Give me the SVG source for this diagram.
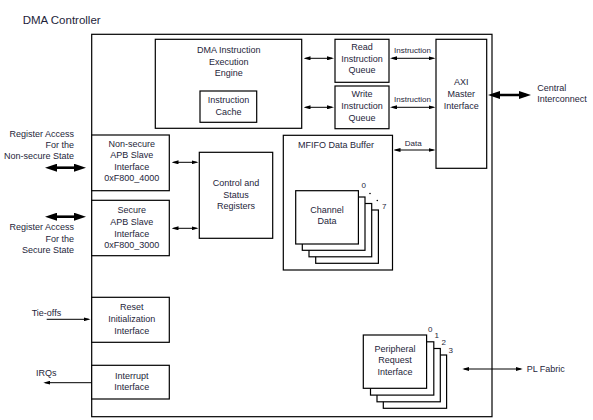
<svg xmlns="http://www.w3.org/2000/svg" width="593" height="420" viewBox="0 0 593 420">
<style>
text{font-family:"Liberation Sans",Arial,sans-serif;font-size:9px;fill:#1e1e3a}
.c{text-anchor:middle}
.r{text-anchor:end}
.box{fill:#fff;stroke:#000;stroke-width:1.2}
.ln{stroke:#000;stroke-width:1;fill:none}
.thk{stroke:#000;stroke-width:2.6;fill:none}
</style>
<defs>
<marker id="ah" markerUnits="userSpaceOnUse" viewBox="0 0 7 4" markerWidth="7" markerHeight="4" refX="5" refY="2" orient="auto-start-reverse"><path d="M0,0 L7,2 L0,4 z" fill="#000"/></marker>
<marker id="ahT" markerUnits="userSpaceOnUse" viewBox="0 0 12 8" markerWidth="12" markerHeight="8" refX="7" refY="4" orient="auto-start-reverse"><path d="M0,0 L12,4 L0,8 z" fill="#000"/></marker>
</defs>
<rect width="593" height="420" fill="#fff"/>
<text x="22.7" y="24.3" style="font-size:11.5px">DMA Controller</text>
<g id="controller"><rect class="box" x="91.7" y="34.3" width="400.3" height="382.4"/></g>
<g id="engine">
<rect class="box" x="155.3" y="39.3" width="146.4" height="89"/>
<text class="c" x="228.7" y="53">DMA Instruction</text>
<text class="c" x="228.7" y="64.5">Execution</text>
<text class="c" x="228.7" y="75.7">Engine</text>
</g>
<g id="cache">
<rect class="box" x="200" y="91" width="56.7" height="31.3"/>
<text class="c" x="228.4" y="102.7">Instruction</text>
<text class="c" x="228.4" y="114.5">Cache</text>
</g>
<g id="readq">
<rect class="box" x="335" y="39.3" width="54" height="43"/>
<text class="c" x="362" y="50">Read</text>
<text class="c" x="362" y="61.7">Instruction</text>
<text class="c" x="362" y="73.3">Queue</text>
</g>
<g id="writeq">
<rect class="box" x="335" y="86" width="54" height="42.7"/>
<text class="c" x="362" y="96.7">Write</text>
<text class="c" x="362" y="109">Instruction</text>
<text class="c" x="362" y="120.7">Queue</text>
</g>
<g id="axi">
<rect class="box" x="436" y="39.3" width="50.7" height="129"/>
<text class="c" x="461.3" y="85">AXI</text>
<text class="c" x="461.3" y="96.7">Master</text>
<text class="c" x="461.3" y="109">Interface</text>
</g>
<g id="mfifo">
<rect class="box" x="283.3" y="135.3" width="109.2" height="134.7"/>
<text class="c" x="336" y="148.3">MFIFO Data Buffer</text>
</g>
<g id="channel">
<rect class="box" x="315.7" y="210" width="62.7" height="53.3"/>
<rect class="box" x="309" y="203.5" width="62.7" height="53.3"/>
<rect class="box" x="302.3" y="197" width="62.7" height="53.3"/>
<rect class="box" x="295.7" y="190.7" width="62.7" height="53.3"/>
<text class="c" x="327" y="212.7">Channel</text>
<text class="c" x="327" y="224.3">Data</text>
<text x="361.5" y="188.3" style="font-size:8px">0</text>
<circle cx="370" cy="193.5" r="0.8" fill="#000"/>
<circle cx="377.3" cy="200.5" r="0.8" fill="#000"/>
<text x="382" y="209.3" style="font-size:8px">7</text>
</g>
<g id="nsapb">
<rect class="box" x="91.7" y="135" width="77.6" height="55.7"/>
<text class="c" x="131.7" y="146.7">Non-secure</text>
<text class="c" x="131.7" y="158.3">APB Slave</text>
<text class="c" x="131.7" y="169.5">Interface</text>
<text class="c" x="131.7" y="181">0xF800_4000</text>
</g>
<g id="sapb">
<rect class="box" x="91.7" y="200.3" width="77.6" height="55.4"/>
<text class="c" x="131.7" y="213.3">Secure</text>
<text class="c" x="131.7" y="225">APB Slave</text>
<text class="c" x="131.7" y="237">Interface</text>
<text class="c" x="131.7" y="248.3">0xF800_3000</text>
</g>
<g id="csr">
<rect class="box" x="199.3" y="152.3" width="73.4" height="86"/>
<text class="c" x="236" y="186">Control and</text>
<text class="c" x="236" y="198">Status</text>
<text class="c" x="236" y="209.3">Registers</text>
</g>
<g id="reset">
<rect class="box" x="91.7" y="297.3" width="77.6" height="45"/>
<text class="c" x="131.7" y="310">Reset</text>
<text class="c" x="131.7" y="322.3">Initialization</text>
<text class="c" x="131.7" y="334">Interface</text>
</g>
<g id="interrupt">
<rect class="box" x="91.7" y="365.3" width="77.6" height="33.7"/>
<text class="c" x="131.7" y="378.7">Interrupt</text>
<text class="c" x="131.7" y="390.3">Interface</text>
</g>
<g id="peripheral">
<rect class="box" x="383.3" y="355" width="63.3" height="53.3"/>
<rect class="box" x="377" y="348.5" width="63.3" height="53.3"/>
<rect class="box" x="370.5" y="341.8" width="63.3" height="53.3"/>
<rect class="box" x="363.3" y="335" width="63.3" height="53.3"/>
<text class="c" x="395" y="351.7">Peripheral</text>
<text class="c" x="395" y="363.3">Request</text>
<text class="c" x="395" y="375">Interface</text>
<text x="428" y="331.7" style="font-size:8px">0</text>
<text x="434.5" y="338.3" style="font-size:8px">1</text>
<text x="441.5" y="345" style="font-size:8px">2</text>
<text x="448.5" y="353" style="font-size:8px">3</text>
</g>
<g id="external-labels">
<text x="537.3" y="90.7">Central</text>
<text x="537.3" y="102.3">Interconnect</text>
<text class="r" x="74" y="136.7">Register Access</text>
<text class="r" x="74" y="147.8">For the</text>
<text class="r" x="74" y="159">Non-secure State</text>
<text class="r" x="74" y="230">Register Access</text>
<text class="r" x="74" y="241.7">For the</text>
<text class="r" x="74" y="253.3">Secure State</text>
<text x="31.7" y="315.7">Tie-offs</text>
<text x="36" y="376">IRQs</text>
<text x="526.7" y="371.7">PL Fabric</text>
</g>
<g id="connectors">
<line class="ln" x1="305.5" y1="58.3" x2="332" y2="58.3" marker-start="url(#ah)" marker-end="url(#ah)"/>
<line class="ln" x1="305.5" y1="107.3" x2="332" y2="107.3" marker-start="url(#ah)" marker-end="url(#ah)"/>
<line class="ln" x1="392" y1="58.3" x2="433.5" y2="58.3" marker-start="url(#ah)" marker-end="url(#ah)"/>
<text class="c" x="412.5" y="53.3" style="font-size:8px">Instruction</text>
<line class="ln" x1="392" y1="107.3" x2="433.5" y2="107.3" marker-start="url(#ah)" marker-end="url(#ah)"/>
<text class="c" x="412.5" y="102.3" style="font-size:8px">Instruction</text>
<line class="ln" x1="395.5" y1="150" x2="433.5" y2="150" marker-start="url(#ah)" marker-end="url(#ah)"/>
<text class="c" x="413.3" y="146" style="font-size:8px">Data</text>
<line class="thk" x1="493" y1="95" x2="526" y2="95" marker-start="url(#ahT)" marker-end="url(#ahT)"/>
<line class="ln" x1="173.5" y1="162.3" x2="196.5" y2="162.3" marker-start="url(#ah)" marker-end="url(#ah)"/>
<line class="ln" x1="173.5" y1="228.3" x2="196.5" y2="228.3" marker-start="url(#ah)" marker-end="url(#ah)"/>
<line class="thk" x1="50" y1="167.7" x2="81" y2="167.7" marker-start="url(#ahT)" marker-end="url(#ahT)"/>
<line class="thk" x1="50" y1="216.7" x2="81" y2="216.7" marker-start="url(#ahT)" marker-end="url(#ahT)"/>
<line class="ln" x1="46.7" y1="319.3" x2="88.5" y2="319.3" marker-end="url(#ah)"/>
<line class="ln" x1="91.7" y1="382.7" x2="45.3" y2="382.7" marker-end="url(#ah)"/>
<line class="ln" x1="464.3" y1="369" x2="520.7" y2="369" marker-start="url(#ah)" marker-end="url(#ah)"/>
</g>
</svg>
